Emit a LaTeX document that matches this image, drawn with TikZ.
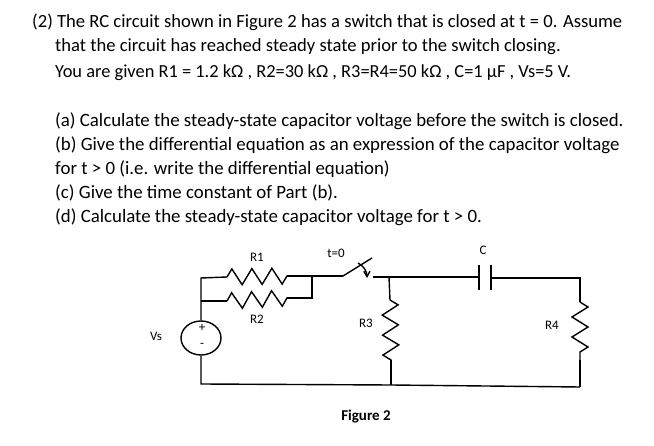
\documentclass[tikz,border=0pt]{standalone}
\usepackage{fontspec}
\setmainfont{Carlito}
\usetikzlibrary{arrows}
\usetikzlibrary{shapes.geometric}
\usetikzlibrary{decorations.pathmorphing}
\tikzset{
  txt/.style={anchor=base west,inner sep=0pt,font=\fontsize{18.6}{20}\selectfont},
  txtb/.style={anchor=base west,inner sep=0pt,font=\fontsize{18.85}{20}\selectfont},
  lbl/.style={anchor=base,inner sep=0pt,font=\fontsize{13}{15}\selectfont},
  wire/.style={line width=1.4pt},
  res/.style={line width=1.4pt,decorate,decoration={zigzag,segment length=20pt,amplitude=8pt}},
}
\begin{document}
\begin{tikzpicture}[x=1pt,y=-1pt,>=angle 60]
\useasboundingbox (0,0) rectangle (654,446);
% question text
\node [txt] (line1) at (32,28) {(2) The RC circuit shown in Figure 2 has a switch that is closed at t = 0. Assume};
\node [txt] (line2) at (55,52) {that the circuit has reached steady state prior to the switch closing.};
\node [txt,font=\fontsize{18.4}{20}\selectfont] (line3) at (55,78) {You are given R1 = 1.2 kΩ , R2=30 kΩ , R3=R4=50 kΩ , C=1 µF , Vs=5 V.};
\node [txtb] (parta) at (55,127) {(a) Calculate the steady-state capacitor voltage before the switch is closed.};
\node [txtb] (partb) at (55,151) {(b) Give the differential equation as an expression of the capacitor voltage};
\node [txtb] (partb2) at (55,175) {for t > 0 (i.e. write the differential equation)};
\node [txtb] (partc) at (55,199) {(c) Give the time constant of Part (b).};
\node [txtb] (partd) at (55,223) {(d) Calculate the steady-state capacitor voltage for t > 0.};
% source
\node [draw,ellipse,wire,minimum width=40pt,minimum height=34pt,inner sep=0pt] (vs) at (201,338) {};
\node [lbl] (plus) at (202,332) {+};
\node [lbl] (minus) at (202,348) {-};
% junctions
\coordinate (topl) at (201,278);
\coordinate (midl) at (201,301);
\coordinate (r1a) at (227,277);
\coordinate (r1b) at (287,276);
\coordinate (r2a) at (227,301);
\coordinate (r2b) at (287,298);
\coordinate (topm) at (312,276);
\coordinate (midm) at (312,298);
\coordinate (swa) at (343,276);
\coordinate (swb) at (372,258);
\coordinate (swc) at (373,277);
\coordinate (n3) at (389,277);
\coordinate (r3a) at (390,300);
\coordinate (r3b) at (391,360);
\coordinate (b3) at (391,385);
\coordinate (c1) at (479,277);
\coordinate (c2) at (491,278);
\coordinate (n4) at (580,278);
\coordinate (r4a) at (580,302);
\coordinate (r4b) at (580,360);
\coordinate (b4) at (580,387);
\coordinate (bl) at (201,384);
\coordinate (arra) at (358,263);
\coordinate (arrb) at (367,278);
% wires
\draw [wire] (vs.north) -- (topl) -- (r1a);
\draw [wire] (midl) -- (r2a);
\draw [res] (r1a) -- (r1b);
\draw [res] (r2a) -- (r2b);
\draw [wire] (r1b) -- (topm) -- (swa);
\draw [wire] (r2b) -- (midm) -- (topm);
\draw [wire] (swa) -- (swb);
\draw [wire,->] (arra) to [bend left=30] (arrb);
\draw [wire] (swc) -- (n3) -- (c1);
\draw [wire] (n3) -- (r3a);
\draw [res] (r3a) -- (r3b);
\draw [wire] (r3b) -- (b3);
\draw [wire] (479,265) -- (479,290);
\draw [wire] (491,265) -- (491,290);
\draw [wire] (c2) -- (n4) -- (r4a);
\draw [res] (r4a) -- (r4b);
\draw [wire] (r4b) -- (b4);
\draw [wire] (vs.south) -- (bl) -- (b3) -- (b4);
% labels
\node [lbl] (r1lab) at (257,262) {R1};
\node [lbl] (r2lab) at (257,324) {R2};
\node [lbl] (r3lab) at (366,328) {R3};
\node [lbl] (r4lab) at (552,330) {R4};
\node [lbl] (clab) at (483,255) {C};
\node [lbl] (tlab) at (336,258) {t=0};
\node [lbl] (vslab) at (156,341) {Vs};
\node [lbl,font=\bfseries\fontsize{15}{17}\selectfont] (figlab) at (366,421) {Figure 2};
\end{tikzpicture}
\end{document}
